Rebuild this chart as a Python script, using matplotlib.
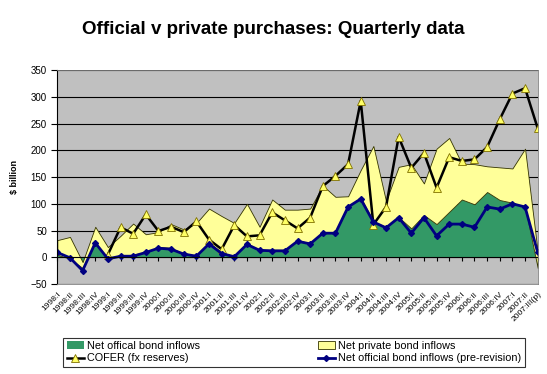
import matplotlib.pyplot as plt
import numpy as np

plt.rcParams['font.family'] = ['Liberation Sans', 'DejaVu Sans']

# quarters 1998:I .. 2007:III(p)
quarters = []
for yr in range(1998, 2008):
    for q in ['I', 'II', 'III', 'IV']:
        quarters.append(f"{yr}:{q}")
quarters = quarters[:38] + ['2007:III(p)']

official = [5, -3, -20, 27, -3, 3, 5, 10, 19, 18, 6, 4, 28, 9, 2, 26, 14, 14, 14, 31,
            27, 46, 47, 94, 112, 66, 57, 75, 54, 79, 62, 85, 108, 99, 122, 107, 102, 94, -20]
private = [27, 41, 11, 30, 22, 37, 58, 33, 28, 44, 46, 60, 63, 68, 62, 74, 43, 94, 75, 58,
           64, 88, 66, 20, 51, 142, 48, 94, 120, 59, 141, 138, 67, 75, 48, 61, 64, 109, 30]
cofer = [np.nan, np.nan, np.nan, np.nan, 5, 56, 44, 80, 49, 57, 47, 67, 33, 15, 60, 39, 41, 84,
         69, 54, 74, 133, 152, 174, 292, 61, 94, 225, 167, 195, 130, 187, 180, 183, 206, 258,
         306, 316, 241]
pre_revision = [9, -1, -25, 27, -3, 2, 2, 9, 17, 15, 6, 2, 25, 7, 1, 24, 13, 12, 12, 30,
                25, 45, 45, 94, 109, 66, 55, 74, 45, 74, 40, 62, 62, 56, 94, 90, 100, 94, 9]

x = np.arange(len(quarters))
off = np.array(official, dtype=float)
tot = off + np.array(private, dtype=float)

fig = plt.figure(figsize=(5.47, 3.74), dpi=100)
ax = fig.add_axes([0.1048, 0.2406, 0.8782, 0.5722])
ax.set_facecolor('#C0C0C0')

ax.fill_between(x, 0, off, color='#339966', lw=0, label='Net offical bond inflows')
ax.fill_between(x, off, tot, facecolor='#FFFF99', edgecolor='#333300', lw=0.6,
                label='Net private bond inflows')
ax.plot(x, cofer, color='black', lw=1.8, marker='^', ms=5.5, mfc='#FFFF66', mec='#807000',
        mew=0.6, label='COFER (fx reserves)')
ax.plot(x, pre_revision, color='#000080', lw=2, marker='D', ms=3, mfc='#000080',
        mec='#000080', label='Net official bond inflows (pre-revision)')

ax.set_xlim(0, len(quarters) - 1)
ax.set_ylim(-50, 350)
ax.set_yticks(range(-50, 351, 50))
ax.yaxis.grid(True, color='black', lw=0.8)
ax.set_axisbelow(True)
ax.tick_params(axis='y', labelsize=7, direction='out', length=4, width=0.8)
ax.set_ylabel('$ billion', fontsize=6.5, fontweight='bold', labelpad=8)

ax.set_xticks(x)
ax.set_xticklabels(quarters, rotation=45, ha='right', rotation_mode='anchor', fontsize=6.1)
ax.tick_params(axis='x', length=0, pad=5)

# category axis crossing at zero
ax.axhline(0, color='black', lw=0.8)
sec = ax.secondary_xaxis(50 / 400)
sec.set_xticks(x)
sec.set_xticklabels([])
sec.tick_params(direction='out', length=3, width=0.8, color='black')
sec.spines['bottom'].set_visible(False)

for s in ['top', 'right', 'bottom']:
    ax.spines[s].set_color('#808080')
    ax.spines[s].set_linewidth(0.6)
ax.spines['left'].set_color('black')

fig.suptitle('Official v private purchases: Quarterly data', fontsize=13.5,
             fontweight='bold', y=0.945)

h, l = ax.get_legend_handles_labels()
order = [0, 2, 1, 3]
leg = fig.legend([h[i] for i in order], [l[i] for i in order], ncol=2,
                 loc='lower left', bbox_to_anchor=(0.106, 0.005, 0.863, 0.107),
                 mode='expand', fontsize=7.8, frameon=True, fancybox=False,
                 handlelength=1.6, handletextpad=0.3, borderpad=0.3, labelspacing=0.25)
leg.get_frame().set_edgecolor('black')
leg.get_frame().set_linewidth(0.8)

plt.savefig('out.png', dpi=100)
